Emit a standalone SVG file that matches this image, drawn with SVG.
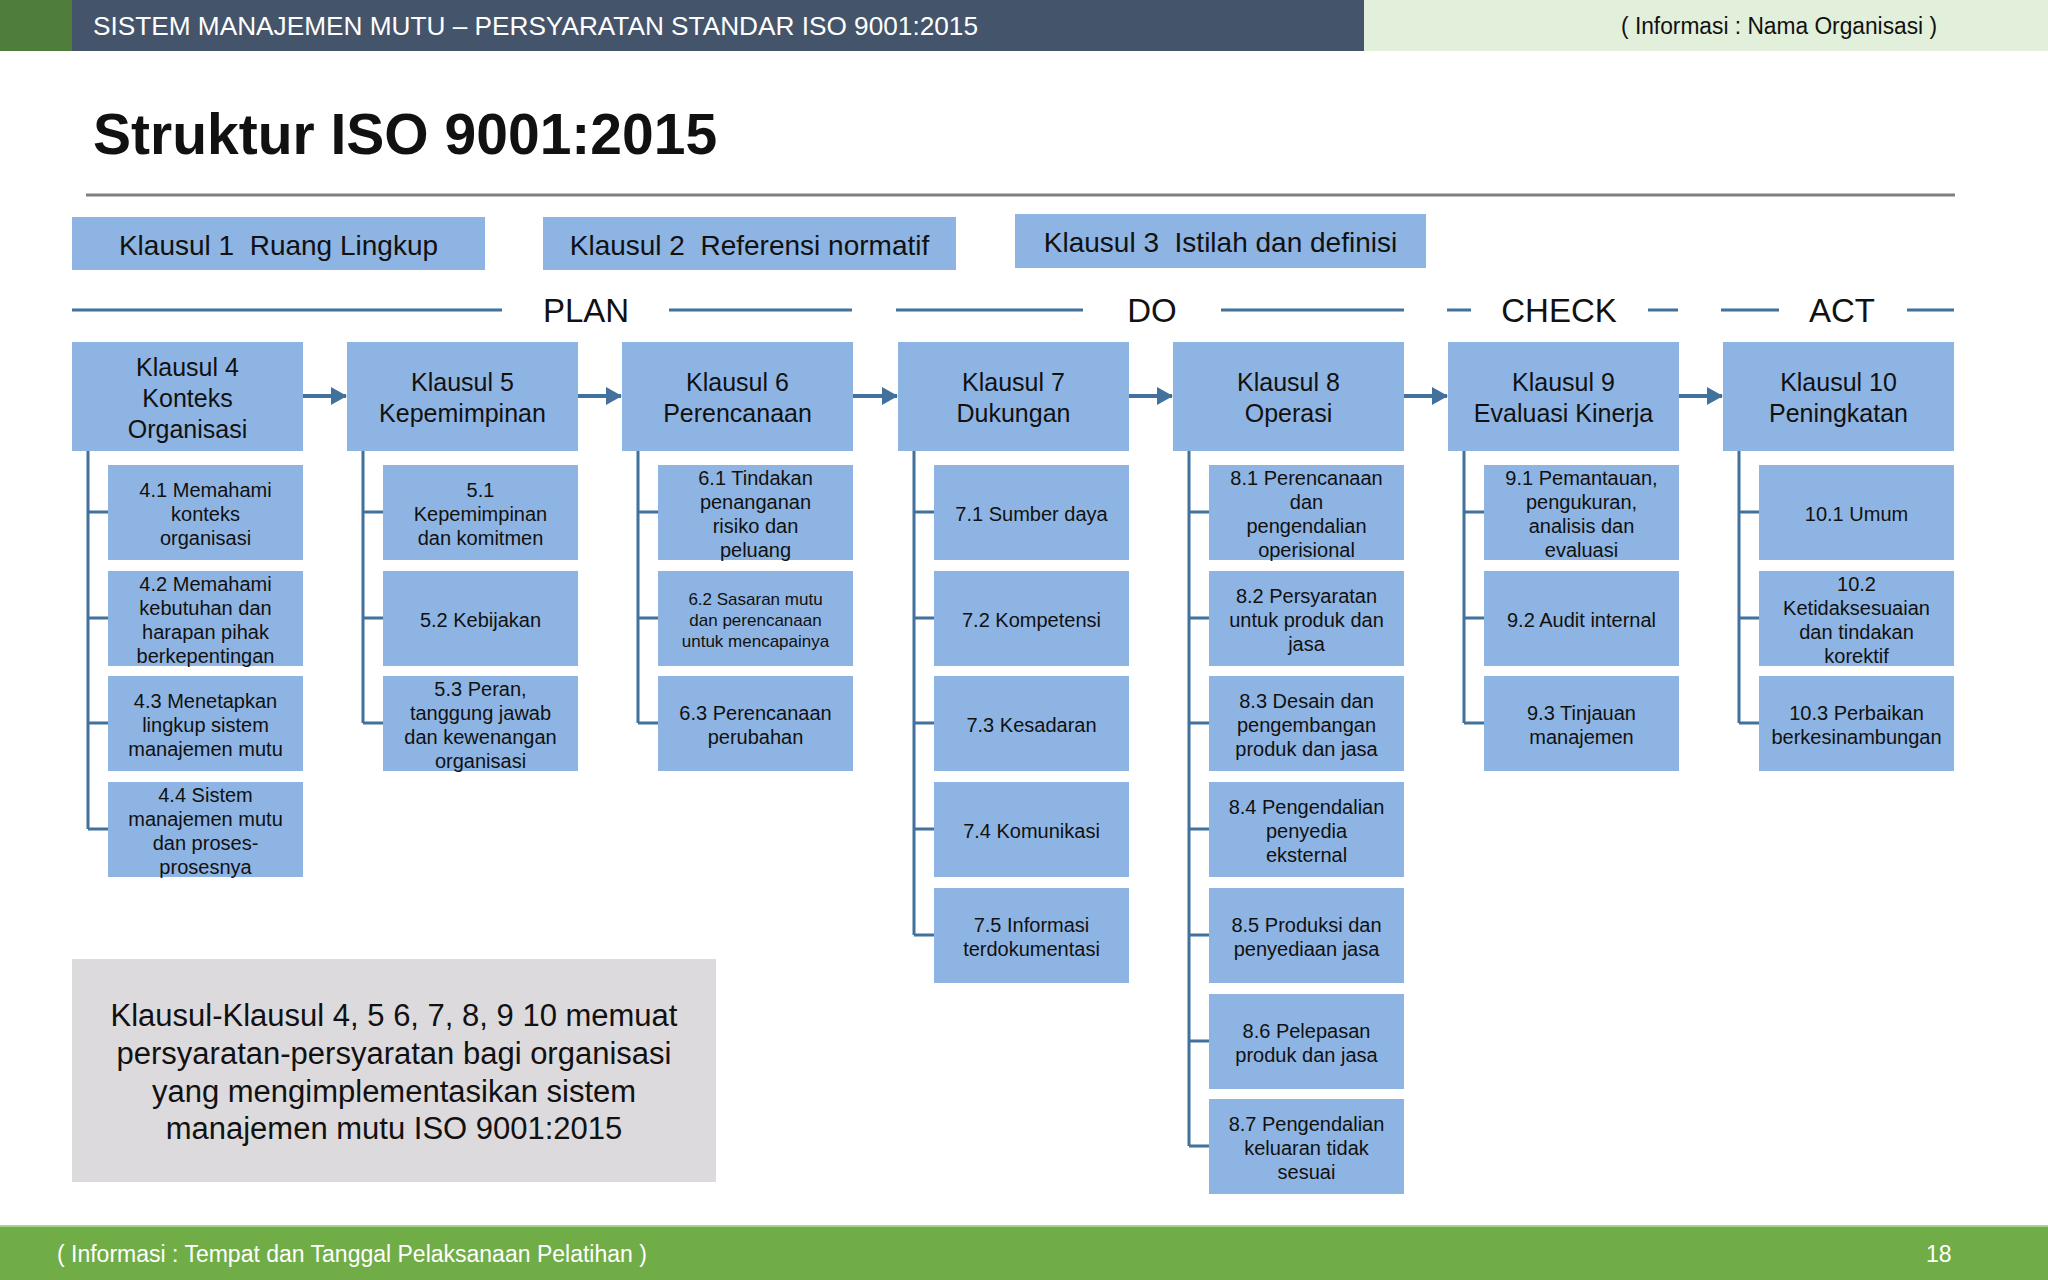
<svg xmlns="http://www.w3.org/2000/svg" width="2048" height="1280" viewBox="0 0 2048 1280">
<defs>
<style>
text{font-family:"Liberation Sans",Arial,sans-serif;fill:#111;}
.box{fill:#8EB4E3;}
.main{font-size:25px;text-anchor:middle;}
.sub{font-size:20px;text-anchor:middle;}
.small{font-size:17px;text-anchor:middle;}
.top{font-size:28px;text-anchor:middle;white-space:pre;}
.phase{font-size:33px;text-anchor:middle;}
.ln{stroke:#41719C;stroke-width:3;fill:none;}
.arr{stroke:#41719C;stroke-width:4;fill:none;}
</style>
<marker id="ah" markerUnits="userSpaceOnUse" markerWidth="16" markerHeight="18" refX="15" refY="9" orient="auto">
<path d="M0,0 L16,9 L0,18 z" fill="#41719C"/>
</marker>
</defs>
<rect width="2048" height="1280" fill="#FFFFFF"/>
<!-- header -->
<g id="header">
<rect x="0" y="0" width="72" height="51" fill="#4F7D3B"/>
<rect x="72" y="0" width="1292" height="51" fill="#44546A"/>
<rect x="1364" y="0" width="684" height="51" fill="#E2EFDA"/>
<text x="93" y="35" textLength="885" lengthAdjust="spacingAndGlyphs" style="font-size:26px;fill:#FFFFFF">SISTEM MANAJEMEN MUTU – PERSYARATAN STANDAR ISO 9001:2015</text>
<text x="1621" y="34" textLength="316" lengthAdjust="spacingAndGlyphs" style="font-size:23.5px">( Informasi : Nama Organisasi )</text>
</g>
<g id="title">
<text x="93" y="154" style="font-size:57px;font-weight:bold">Struktur ISO 9001:2015</text>
<line x1="86" y1="195" x2="1955" y2="195" stroke="#7F7F7F" stroke-width="3"/>
</g>
<!-- top clauses -->
<g id="k1"><rect class="box" x="72" y="217" width="413" height="53"/><text class="top" x="278.5" y="255" xml:space="preserve">Klausul 1  Ruang Lingkup</text></g>
<g id="k2"><rect class="box" x="543" y="217" width="413" height="53"/><text class="top" x="749.5" y="255" xml:space="preserve">Klausul 2  Referensi normatif</text></g>
<g id="k3"><rect class="box" x="1015" y="214" width="411" height="54"/><text class="top" x="1220.5" y="252" xml:space="preserve">Klausul 3  Istilah dan definisi</text></g>
<!-- phase labels -->
<g id="phases">
<line class="ln" x1="72" y1="310" x2="502" y2="310"/>
<text class="phase" x="586" y="322">PLAN</text>
<line class="ln" x1="669" y1="310" x2="852" y2="310"/>
<line class="ln" x1="896" y1="310" x2="1083" y2="310"/>
<text class="phase" x="1152" y="322">DO</text>
<line class="ln" x1="1221" y1="310" x2="1404" y2="310"/>
<line class="ln" x1="1447" y1="310" x2="1471" y2="310"/>
<text class="phase" x="1559" y="322">CHECK</text>
<line class="ln" x1="1648" y1="310" x2="1678" y2="310"/>
<line class="ln" x1="1721" y1="310" x2="1779" y2="310"/>
<text class="phase" x="1842" y="322">ACT</text>
<line class="ln" x1="1907" y1="310" x2="1954" y2="310"/>
</g>
<!-- connectors -->
<g id="connectors">
<line class="arr" x1="303" y1="396" x2="346" y2="396" marker-end="url(#ah)"/>
<line class="arr" x1="578" y1="396" x2="621" y2="396" marker-end="url(#ah)"/>
<line class="arr" x1="853" y1="396" x2="897" y2="396" marker-end="url(#ah)"/>
<line class="arr" x1="1129" y1="396" x2="1172" y2="396" marker-end="url(#ah)"/>
<line class="arr" x1="1404" y1="396" x2="1447" y2="396" marker-end="url(#ah)"/>
<line class="arr" x1="1679" y1="396" x2="1722" y2="396" marker-end="url(#ah)"/>
<path class="ln" d="M88,451 V829 M88,512 H108 M88,618 H108 M88,723 H108 M88,829 H108"/>
<path class="ln" d="M363,451 V723 M363,512 H383 M363,618 H383 M363,723 H383"/>
<path class="ln" d="M638,451 V723 M638,512 H658 M638,618 H658 M638,723 H658"/>
<path class="ln" d="M914,451 V935 M914,512 H934 M914,618 H934 M914,723 H934 M914,829 H934 M914,935 H934"/>
<path class="ln" d="M1189,451 V1146 M1189,512 H1209 M1189,618 H1209 M1189,723 H1209 M1189,829 H1209 M1189,935 H1209 M1189,1041 H1209 M1189,1146 H1209"/>
<path class="ln" d="M1464,451 V723 M1464,512 H1484 M1464,618 H1484 M1464,723 H1484"/>
<path class="ln" d="M1739,451 V723 M1739,512 H1759 M1739,618 H1759 M1739,723 H1759"/>
</g>
<!-- main clauses -->
<g id="k4"><rect class="box" x="72" y="342" width="231" height="109"/><text class="main" x="187.5" y="376">Klausul 4</text><text class="main" x="187.5" y="407">Konteks</text><text class="main" x="187.5" y="438">Organisasi</text></g>
<g id="k5"><rect class="box" x="347" y="342" width="231" height="109"/><text class="main" x="462.5" y="391">Klausul 5</text><text class="main" x="462.5" y="422">Kepemimpinan</text></g>
<g id="k6"><rect class="box" x="622" y="342" width="231" height="109"/><text class="main" x="737.5" y="391">Klausul 6</text><text class="main" x="737.5" y="422">Perencanaan</text></g>
<g id="k7"><rect class="box" x="898" y="342" width="231" height="109"/><text class="main" x="1013.5" y="391">Klausul 7</text><text class="main" x="1013.5" y="422">Dukungan</text></g>
<g id="k8"><rect class="box" x="1173" y="342" width="231" height="109"/><text class="main" x="1288.5" y="391">Klausul 8</text><text class="main" x="1288.5" y="422">Operasi</text></g>
<g id="k9"><rect class="box" x="1448" y="342" width="231" height="109"/><text class="main" x="1563.5" y="391">Klausul 9</text><text class="main" x="1563.5" y="422">Evaluasi Kinerja</text></g>
<g id="k10"><rect class="box" x="1723" y="342" width="231" height="109"/><text class="main" x="1838.5" y="391">Klausul 10</text><text class="main" x="1838.5" y="422">Peningkatan</text></g>
<!-- column 4 -->
<g id="s41"><rect class="box" x="108" y="465" width="195" height="95"/><text class="sub" x="205.5" y="497">4.1 Memahami</text><text class="sub" x="205.5" y="521">konteks</text><text class="sub" x="205.5" y="545">organisasi</text></g>
<g id="s42"><rect class="box" x="108" y="571" width="195" height="95"/><text class="sub" x="205.5" y="591">4.2 Memahami</text><text class="sub" x="205.5" y="615">kebutuhan dan</text><text class="sub" x="205.5" y="639">harapan pihak</text><text class="sub" x="205.5" y="663">berkepentingan</text></g>
<g id="s43"><rect class="box" x="108" y="676" width="195" height="95"/><text class="sub" x="205.5" y="708">4.3 Menetapkan</text><text class="sub" x="205.5" y="732">lingkup sistem</text><text class="sub" x="205.5" y="756">manajemen mutu</text></g>
<g id="s44"><rect class="box" x="108" y="782" width="195" height="95"/><text class="sub" x="205.5" y="802">4.4 Sistem</text><text class="sub" x="205.5" y="826">manajemen mutu</text><text class="sub" x="205.5" y="850">dan proses-</text><text class="sub" x="205.5" y="874">prosesnya</text></g>
<!-- column 5 -->
<g id="s51"><rect class="box" x="383" y="465" width="195" height="95"/><text class="sub" x="480.5" y="497">5.1</text><text class="sub" x="480.5" y="521">Kepemimpinan</text><text class="sub" x="480.5" y="545">dan komitmen</text></g>
<g id="s52"><rect class="box" x="383" y="571" width="195" height="95"/><text class="sub" x="480.5" y="627">5.2 Kebijakan</text></g>
<g id="s53"><rect class="box" x="383" y="676" width="195" height="95"/><text class="sub" x="480.5" y="696">5.3 Peran,</text><text class="sub" x="480.5" y="720">tanggung jawab</text><text class="sub" x="480.5" y="744">dan kewenangan</text><text class="sub" x="480.5" y="768">organisasi</text></g>
<!-- column 6 -->
<g id="s61"><rect class="box" x="658" y="465" width="195" height="95"/><text class="sub" x="755.5" y="485">6.1 Tindakan</text><text class="sub" x="755.5" y="509">penanganan</text><text class="sub" x="755.5" y="533">risiko dan</text><text class="sub" x="755.5" y="557">peluang</text></g>
<g id="s62"><rect class="box" x="658" y="571" width="195" height="95"/><text class="small" x="755.5" y="605">6.2 Sasaran mutu</text><text class="small" x="755.5" y="626">dan perencanaan</text><text class="small" x="755.5" y="647">untuk mencapainya</text></g>
<g id="s63"><rect class="box" x="658" y="676" width="195" height="95"/><text class="sub" x="755.5" y="720">6.3 Perencanaan</text><text class="sub" x="755.5" y="744">perubahan</text></g>
<!-- column 7 -->
<g id="s71"><rect class="box" x="934" y="465" width="195" height="95"/><text class="sub" x="1031.5" y="521">7.1 Sumber daya</text></g>
<g id="s72"><rect class="box" x="934" y="571" width="195" height="95"/><text class="sub" x="1031.5" y="627">7.2 Kompetensi</text></g>
<g id="s73"><rect class="box" x="934" y="676" width="195" height="95"/><text class="sub" x="1031.5" y="732">7.3 Kesadaran</text></g>
<g id="s74"><rect class="box" x="934" y="782" width="195" height="95"/><text class="sub" x="1031.5" y="838">7.4 Komunikasi</text></g>
<g id="s75"><rect class="box" x="934" y="888" width="195" height="95"/><text class="sub" x="1031.5" y="932">7.5 Informasi</text><text class="sub" x="1031.5" y="956">terdokumentasi</text></g>
<!-- column 8 -->
<g id="s81"><rect class="box" x="1209" y="465" width="195" height="95"/><text class="sub" x="1306.5" y="485">8.1 Perencanaan</text><text class="sub" x="1306.5" y="509">dan</text><text class="sub" x="1306.5" y="533">pengendalian</text><text class="sub" x="1306.5" y="557">operisional</text></g>
<g id="s82"><rect class="box" x="1209" y="571" width="195" height="95"/><text class="sub" x="1306.5" y="603">8.2 Persyaratan</text><text class="sub" x="1306.5" y="627">untuk produk dan</text><text class="sub" x="1306.5" y="651">jasa</text></g>
<g id="s83"><rect class="box" x="1209" y="676" width="195" height="95"/><text class="sub" x="1306.5" y="708">8.3 Desain dan</text><text class="sub" x="1306.5" y="732">pengembangan</text><text class="sub" x="1306.5" y="756">produk dan jasa</text></g>
<g id="s84"><rect class="box" x="1209" y="782" width="195" height="95"/><text class="sub" x="1306.5" y="814">8.4 Pengendalian</text><text class="sub" x="1306.5" y="838">penyedia</text><text class="sub" x="1306.5" y="862">eksternal</text></g>
<g id="s85"><rect class="box" x="1209" y="888" width="195" height="95"/><text class="sub" x="1306.5" y="932">8.5 Produksi dan</text><text class="sub" x="1306.5" y="956">penyediaan jasa</text></g>
<g id="s86"><rect class="box" x="1209" y="994" width="195" height="95"/><text class="sub" x="1306.5" y="1038">8.6 Pelepasan</text><text class="sub" x="1306.5" y="1062">produk dan jasa</text></g>
<g id="s87"><rect class="box" x="1209" y="1099" width="195" height="95"/><text class="sub" x="1306.5" y="1131">8.7 Pengendalian</text><text class="sub" x="1306.5" y="1155">keluaran tidak</text><text class="sub" x="1306.5" y="1179">sesuai</text></g>
<!-- column 9 -->
<g id="s91"><rect class="box" x="1484" y="465" width="195" height="95"/><text class="sub" x="1581.5" y="485">9.1 Pemantauan,</text><text class="sub" x="1581.5" y="509">pengukuran,</text><text class="sub" x="1581.5" y="533">analisis dan</text><text class="sub" x="1581.5" y="557">evaluasi</text></g>
<g id="s92"><rect class="box" x="1484" y="571" width="195" height="95"/><text class="sub" x="1581.5" y="627">9.2 Audit internal</text></g>
<g id="s93"><rect class="box" x="1484" y="676" width="195" height="95"/><text class="sub" x="1581.5" y="720">9.3 Tinjauan</text><text class="sub" x="1581.5" y="744">manajemen</text></g>
<!-- column 10 -->
<g id="s101"><rect class="box" x="1759" y="465" width="195" height="95"/><text class="sub" x="1856.5" y="521">10.1 Umum</text></g>
<g id="s102"><rect class="box" x="1759" y="571" width="195" height="95"/><text class="sub" x="1856.5" y="591">10.2</text><text class="sub" x="1856.5" y="615">Ketidaksesuaian</text><text class="sub" x="1856.5" y="639">dan tindakan</text><text class="sub" x="1856.5" y="663">korektif</text></g>
<g id="s103"><rect class="box" x="1759" y="676" width="195" height="95"/><text class="sub" x="1856.5" y="720">10.3 Perbaikan</text><text class="sub" x="1856.5" y="744">berkesinambungan</text></g>
<!-- note -->
<g id="note">
<rect x="72" y="959" width="644" height="223" fill="#DCDADD"/>
<text x="394" y="1026" style="font-size:31px;text-anchor:middle">Klausul-Klausul 4, 5 6, 7, 8, 9 10 memuat</text>
<text x="394" y="1064" style="font-size:31px;text-anchor:middle">persyaratan-persyaratan bagi organisasi</text>
<text x="394" y="1102" style="font-size:31px;text-anchor:middle">yang mengimplementasikan sistem</text>
<text x="394" y="1139" style="font-size:31px;text-anchor:middle">manajemen mutu ISO 9001:2015</text>
</g>
<!-- footer -->
<g id="footer">
<rect x="0" y="1225" width="2048" height="55" fill="#70AD47"/>
<rect x="0" y="1225" width="2048" height="2" fill="#A9D18E"/>
<text x="57" y="1262" style="font-size:23px;fill:#FFFFFF">( Informasi : Tempat dan Tanggal Pelaksanaan Pelatihan )</text>
<text x="1926" y="1262" style="font-size:23px;fill:#FFFFFF">18</text>
</g>
</svg>
